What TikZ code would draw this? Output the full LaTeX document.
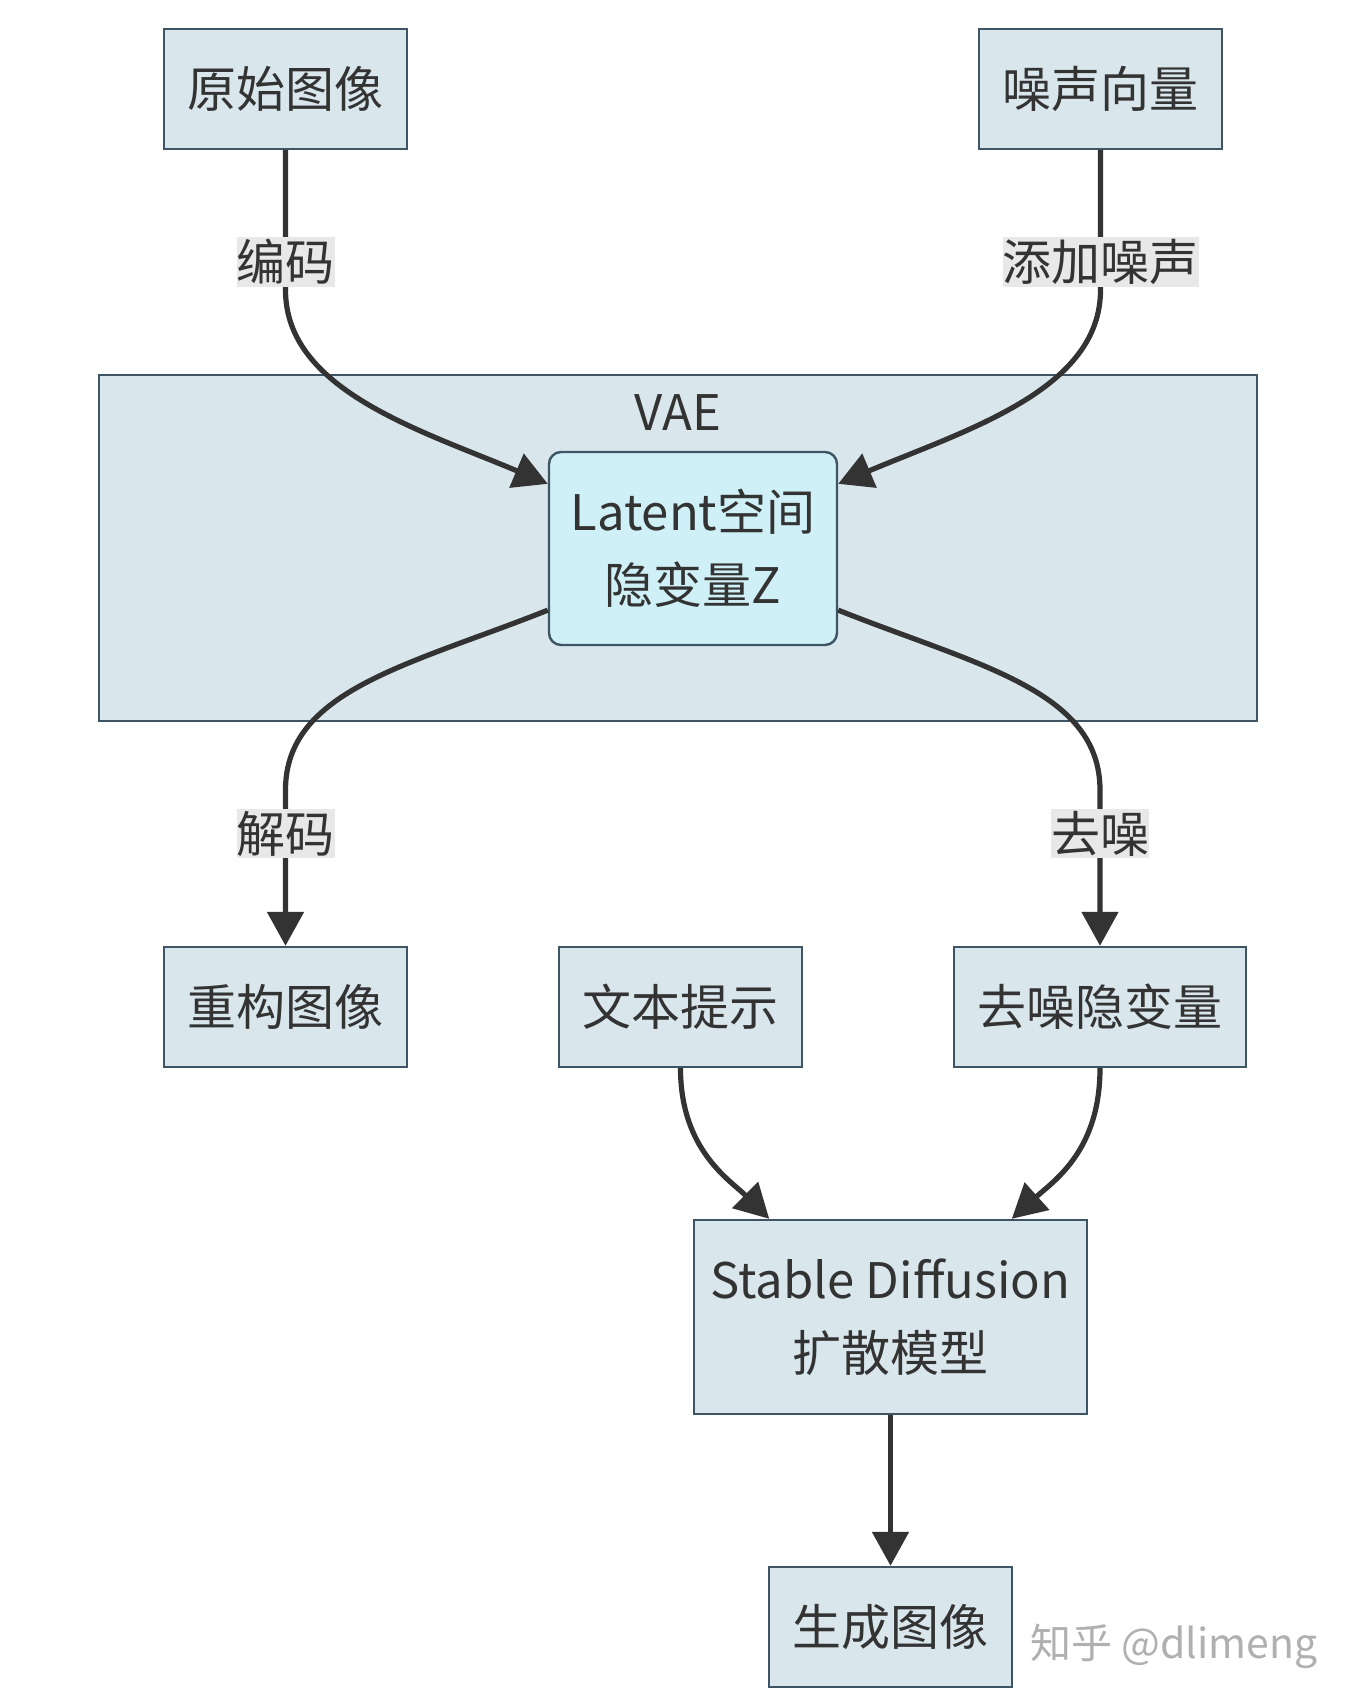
\documentclass[tikz,border=0pt]{standalone}
\usepackage{fontspec}
\setmainfont{Noto Sans CJK SC}
\usetikzlibrary{arrows.meta,positioning}
\definecolor{nodefill}{HTML}{D9E7ED}
\definecolor{latfill}{HTML}{CFF0F6}
\definecolor{frame}{HTML}{3E5566}
\definecolor{ink}{HTML}{333333}
\definecolor{lblbg}{HTML}{E8E8E8}
\definecolor{mark}{HTML}{B0B0B0}

\begin{document}
\begin{tikzpicture}[
  x=0.5pt, y=-0.5pt,
  every node/.style={font=\fontsize{24.5}{36.5}\selectfont, text=ink},
  box/.style={draw=frame, fill=nodefill, line width=1.2pt, minimum width=121.5pt, minimum height=60pt, inner sep=0pt, align=center},
  cluster/.style={draw=frame, fill=nodefill, line width=1.2pt, inner sep=0pt},
  latent/.style={box, fill=latfill, rounded corners=6pt, minimum width=144pt, minimum height=96.5pt},
  lbl/.style={fill=lblbg, inner xsep=0pt, inner ysep=1pt},
  edge/.style={draw=ink, line width=2.6pt, -{Triangle[length=17pt, width=18pt]}}
]
  % page, in px of the reference (y runs down)
  \fill[white] (0,0) rectangle (1351,1705);
  \useasboundingbox (0,0) rectangle (1351,1705);

  % VAE cluster
  \node[cluster, minimum width=579pt, minimum height=173pt] (vae) at (678,548) {};
  \node (vaelbl) at (678,413) {VAE};

  % nodes
  \node[box] (orig)  at (285.5,89)   {原始图像};
  \node[box] (noise) at (1100.5,89)  {噪声向量};
  \node[latent] (lat) at (693,548.5) {Latent空间\\隐变量Z};
  \node[box] (rec)   at (285.5,1007) {重构图像};
  \node[box] (txt)   at (680.5,1007) {文本提示};
  \node[box, minimum width=146pt] (dnz) at (1100,1007) {去噪隐变量};
  \node[box, minimum width=196.5pt, minimum height=97pt] (sd) at (890.5,1317) {Stable Diffusion\\扩散模型};
  \node[box] (gen)   at (890.5,1627) {生成图像};

  % bend points
  \coordinate (encBend) at (285.5,290);
  \coordinate (addBend) at (1100.5,290);
  \coordinate (decBend) at (285.5,790);
  \coordinate (dnzBend) at (1100,790);

  % encode / add noise
  \draw[edge] (orig.south) -- node[lbl, pos=0.8] (enc) {编码} (encBend)
    .. controls (285.5,390) and (420,430) .. (lat.156);
  \draw[edge] (noise.south) -- node[lbl, pos=0.8] (add) {添加噪声} (addBend)
    .. controls (1100.5,390) and (966,430) .. (lat.24);

  % decode / denoise
  \draw[edge] (lat.203) .. controls (410,665) and (285.5,690) .. (decBend)
    -- node[lbl, pos=0.28] (dec) {解码} (rec.north);
  \draw[edge] (lat.337) .. controls (976,665) and (1100,690) .. (dnzBend)
    -- node[lbl, pos=0.28] (den) {去噪} (dnz.north);

  % diffusion
  \draw[edge] (txt.south) .. controls (680.5,1150) and (730,1180) .. (sd.141);
  \draw[edge] (dnz.south) .. controls (1100,1150) and (1055,1180) .. (sd.39);
  \draw[edge] (sd.south) -- (gen.north);

  % watermark
  \node[font=\fontsize{20.5}{22}\selectfont, text=mark] (wm) at (1174,1646) {知乎 @dlimeng};
\end{tikzpicture}
\end{document}
